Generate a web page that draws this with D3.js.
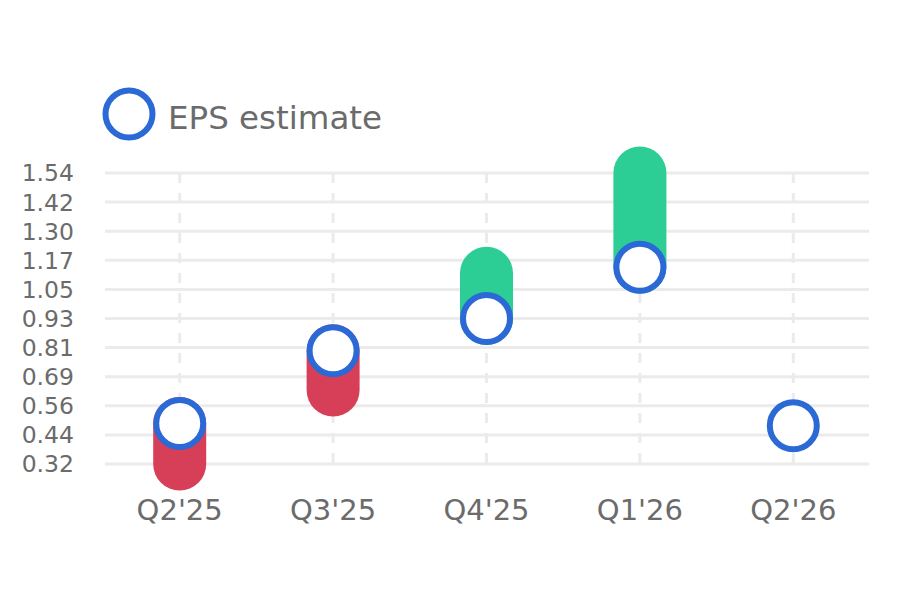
<!DOCTYPE html>
<html>
<head>
<meta charset="utf-8">
<script src="https://cdn.jsdelivr.net/npm/d3@7"></script>
<style>
    body { margin: 0; background: #fff; }
    svg text { font-family: "DejaVu Sans", sans-serif; fill: #6b6b6b; }
</style>
</head>
<body>
<svg id="chart" width="900" height="600"></svg>
<script>
var quarters = ["Q2'25", "Q3'25", "Q4'25", "Q1'26", "Q2'26"];
var epsEstimate = [0.49, 0.795, 0.93, 1.145, 0.48];
var epsActual = [0.32, 0.63, 1.12, 1.54, null];
var yTicks = [0.32, 0.442, 0.564, 0.686, 0.808, 0.93, 1.052, 1.174, 1.296, 1.418, 1.54];

var svg = d3.select("#chart"),
    gridLeft = 105,
    gridRight = 869,
    plotTop = 173,
    plotBottom = 464,
    barWidth = 53,
    blue = "#2a69d6",
    red = "#d73f58",
    green = "#2dce96";

var x = d3.scalePoint()
    .domain(quarters)
    .range([103, 870])
    .padding(0.5);

var y = d3.scaleLinear()
    .domain([0.32, 1.54])
    .range([plotBottom, plotTop]);

// horizontal grid
svg.append("g")
    .selectAll("line")
    .data(yTicks)
    .join("line")
    .attr("x1", gridLeft)
    .attr("x2", gridRight)
    .attr("y1", function (d) { return y(d); })
    .attr("y2", function (d) { return y(d); })
    .attr("stroke", "#ebebeb")
    .attr("stroke-width", 3);

// vertical dashed grid
svg.append("g")
    .selectAll("line")
    .data(quarters)
    .join("line")
    .attr("x1", function (d) { return x(d); })
    .attr("x2", function (d) { return x(d); })
    .attr("y1", plotTop)
    .attr("y2", plotBottom)
    .attr("stroke", "#ebebeb")
    .attr("stroke-width", 3)
    .attr("stroke-dasharray", "10,10");

// y labels
svg.append("g")
    .selectAll("text")
    .data(yTicks)
    .join("text")
    .attr("x", 74)
    .attr("y", function (d) { return y(d); })
    .attr("dy", "0.36em")
    .attr("text-anchor", "end")
    .style("font-size", "23.5px")
    .text(d3.format(".2f"));

// x labels
svg.append("g")
    .selectAll("text")
    .data(quarters)
    .join("text")
    .attr("x", function (d) { return x(d); })
    .attr("y", 520)
    .attr("text-anchor", "middle")
    .style("font-size", "29px")
    .text(function (d) { return d; });

var rows = quarters.map(function (q, i) {
    return { q: q, est: epsEstimate[i], act: epsActual[i] };
});

// bars from estimate to actual
svg.append("g")
    .selectAll("line")
    .data(rows.filter(function (d) { return d.act !== null; }))
    .join("line")
    .attr("x1", function (d) { return x(d.q); })
    .attr("x2", function (d) { return x(d.q); })
    .attr("y1", function (d) { return y(d.est); })
    .attr("y2", function (d) { return y(d.act); })
    .attr("stroke", function (d) { return d.act >= d.est ? green : red; })
    .attr("stroke-width", barWidth)
    .attr("stroke-linecap", "round");

// estimate circles
svg.append("g")
    .selectAll("circle")
    .data(rows)
    .join("circle")
    .attr("cx", function (d) { return x(d.q); })
    .attr("cy", function (d) { return y(d.est); })
    .attr("r", 23.5)
    .attr("fill", "#fff")
    .attr("stroke", blue)
    .attr("stroke-width", 6);

// legend
var legend = svg.append("g");
legend.append("circle")
    .attr("cx", 129)
    .attr("cy", 114)
    .attr("r", 23.5)
    .attr("fill", "#fff")
    .attr("stroke", blue)
    .attr("stroke-width", 6);
legend.append("text")
    .attr("x", 168)
    .attr("y", 117)
    .attr("dy", "0.36em")
    .style("font-size", "32.5px")
    .text("EPS estimate");
</script>
</body>
</html>
